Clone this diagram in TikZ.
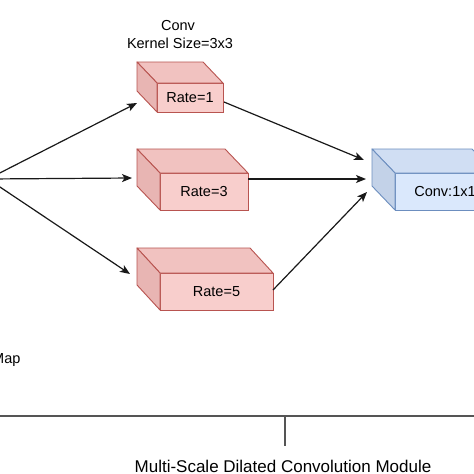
\documentclass[tikz,border=0pt]{standalone}
\usepackage{fontspec}
\setmainfont{Liberation Sans}
\usetikzlibrary{calc,arrows.meta}
\definecolor{pinkfront}{HTML}{F8CECC}
\definecolor{pinktop}{HTML}{F1C2C0}
\definecolor{pinkside}{HTML}{E8B5B3}
\definecolor{pinkline}{HTML}{B85450}
\definecolor{bluefront}{HTML}{DAE8FC}
\definecolor{bluetop}{HTML}{D0DEF3}
\definecolor{blueside}{HTML}{C3D2E8}
\definecolor{blueline}{HTML}{6C8EBF}
\definecolor{rulegray}{HTML}{555555}
% #1 node, #2 dx, #3 dy, #4 top fill, #5 side fill, #6 stroke
\newcommand{\drawcube}[6]{%
  \draw[line width=0.9pt, draw=#6, fill=#4, line join=round]
    (#1.north west) -- ++(-#2,-#3) -- ($(#1.north east)+(-#2,-#3)$) -- (#1.north east) -- cycle;
  \draw[line width=0.9pt, draw=#6, fill=#5, line join=round]
    (#1.north west) -- ++(-#2,-#3) -- ($(#1.south west)+(-#2,-#3)$) -- (#1.south west) -- cycle;
}
\begin{document}
\begin{tikzpicture}[x=1pt,y=-1pt,
  txt/.style={font=\fontsize{14.5}{17}\selectfont, text=black},
  pinkface/.style={draw=pinkline, fill=pinkfront, line width=0.9pt, outer sep=0pt, inner sep=0pt, txt},
  blueface/.style={draw=blueline, fill=bluefront, line width=0.9pt, outer sep=0pt, inner sep=0pt, txt},
  conn/.style={line width=1.2pt, draw=black!90, -{Stealth[length=10pt,width=8pt,inset=2.5pt]}}]
\clip (0,0) rectangle (474,474);
\fill[white] (0,0) rectangle (474,474);

% front faces
\node[pinkface, minimum width=66pt, minimum height=29pt] (r1) at (190,97.5) {Rate=1};
\node[pinkface, minimum width=88pt, minimum height=37pt] (r2) at (204,191.5) {Rate=3};
\node[pinkface, minimum width=113pt, minimum height=37pt] (r3) at (216.5,291.5) {Rate=5};
\node[blueface, minimum width=100pt, minimum height=37pt] (b) at (445,191.5) {Conv:1x1};

\drawcube{r1}{20}{21}{pinktop}{pinkside}{pinkline}
\drawcube{r2}{23}{24}{pinktop}{pinkside}{pinkline}
\drawcube{r3}{23}{25}{pinktop}{pinkside}{pinkline}
\drawcube{b}{23}{24}{bluetop}{blueside}{blueline}

% labels
\node[txt, anchor=base] (t1) at (178,30) {Conv};
\node[txt, anchor=base] (t2) at (180,48) {Kernel Size=3x3};
\node[txt, anchor=base west, inner sep=0pt] (map) at (-8,363) {Map};

% source
\coordinate (src) at (-12,179);
\draw[conn] (src) -- ($(r1.west)+(-20,5.5)$);
\draw[conn] (src) -- ($(r2.west)+(-28,-13.5)$);
\draw[conn] (src) -- ($(r3.west)+(-30,-17.5)$);

\draw[conn] ($(r1.east)+(1,4.5)$) -- ($(b.west)+(-31,-31.5)$);
\draw[conn] ($(r2.east)+(0,-12.5)$) -- ($(b.west)+(-29,-12.5)$);
\draw[conn] ($(r3.east)+(0,-1.5)$) -- ($(b.west)+(-28,0.5)$);

% bottom
\coordinate (hl) at (0,416);
\coordinate (hr) at (474,416);
\coordinate (tick) at (285,416);
\draw[rulegray, line width=1.4pt] (hl) -- (hr);
\draw[rulegray, line width=1.4pt] (tick) -- ++(0,30);
\node[font=\fontsize{17}{20}\selectfont, anchor=base] (title) at (283,472) {Multi-Scale Dilated Convolution Module};
\end{tikzpicture}
\end{document}
